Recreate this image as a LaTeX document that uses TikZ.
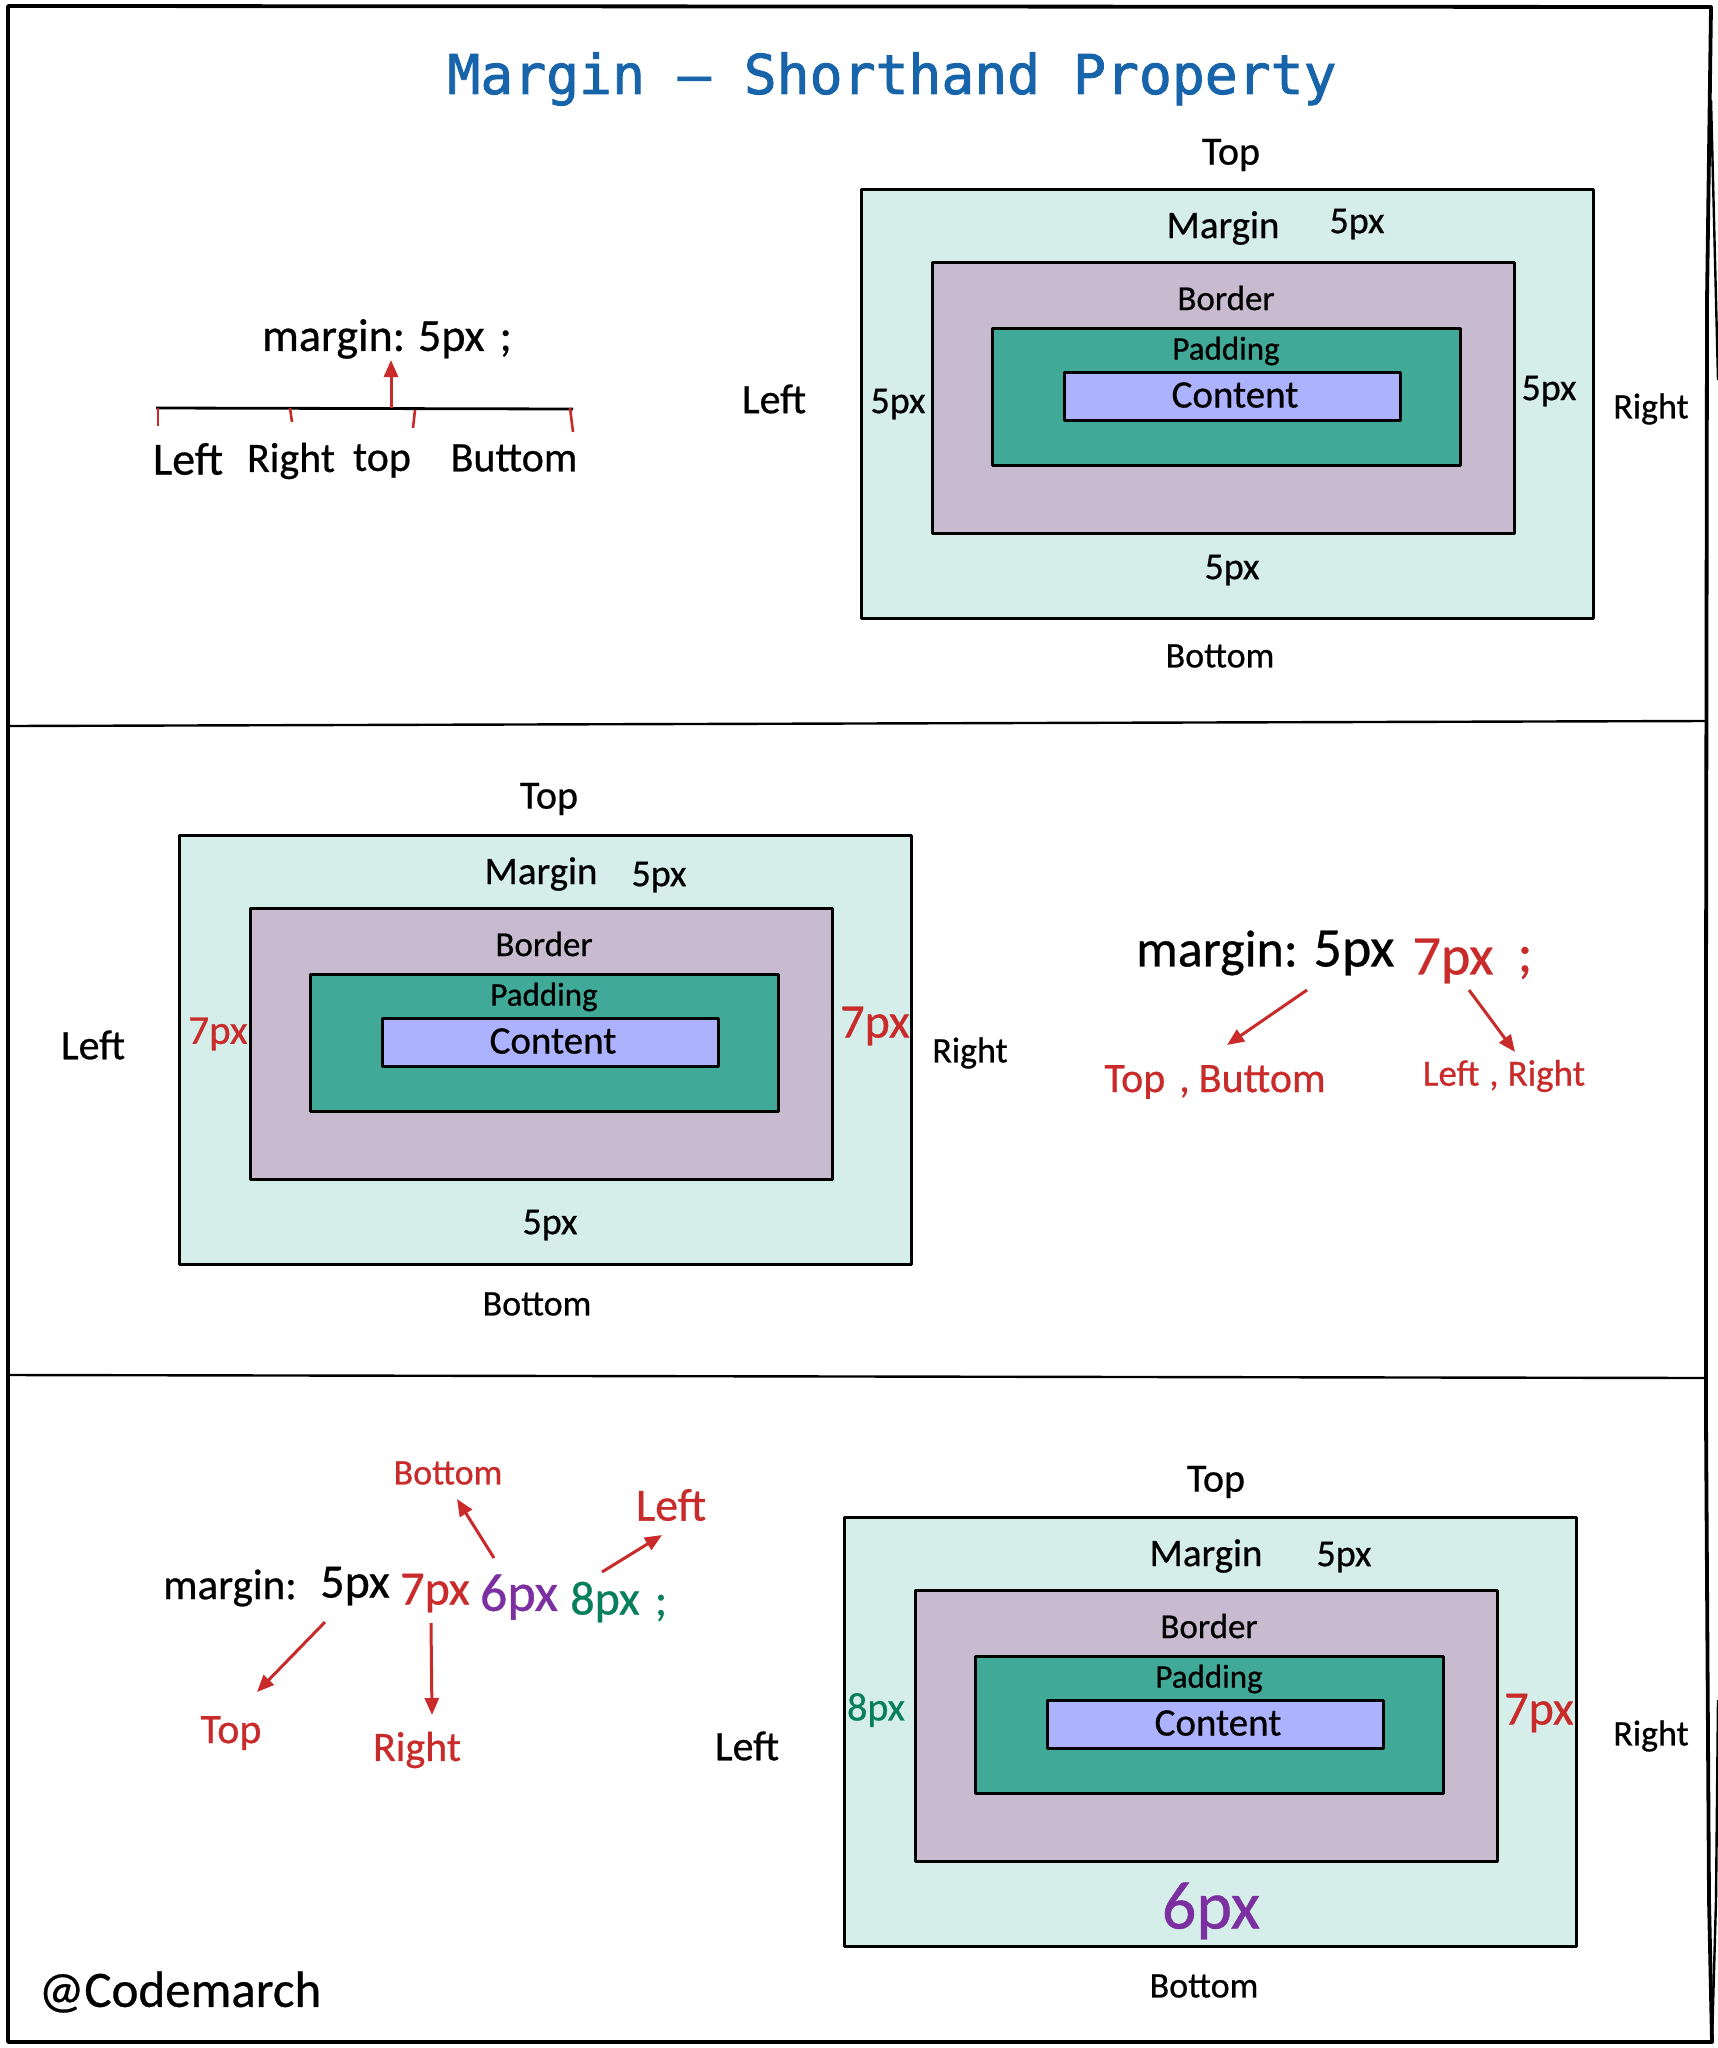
\documentclass[tikz,border=0pt]{standalone}
\usepackage{fontspec}
\setmainfont[FakeBold=0.6]{Carlito}
\newfontfamily\titlefont[FakeBold=1.6]{DejaVu Sans Mono}
\usetikzlibrary{arrows.meta}
\definecolor{marginc}{HTML}{D5EEEA}
\definecolor{borderc}{HTML}{C8BACF}
\definecolor{paddingc}{HTML}{40A997}
\definecolor{contentc}{HTML}{ADB2FE}
\definecolor{redc}{HTML}{C92A2A}
\definecolor{bluec}{HTML}{1864AB}
\definecolor{purplec}{HTML}{7B2FA0}
\definecolor{greenc}{HTML}{087F5B}
\tikzset{
  hand/.style={inner sep=0pt,font=\fontsize{#1}{#1}\selectfont},
  hand/.default=36,
  layer/.style={draw=black,line width=2.8pt,anchor=north west,inner sep=0pt,line join=round},
  framing/.style={line width=3.8pt,line cap=round,line join=round},
  divider/.style={line width=2.4pt},
  redarrow/.style={draw=redc,line width=3pt,-{Triangle[length=17pt,width=14pt]}},
  tick/.style={draw=redc,line width=2.6pt},
}
% #1 name prefix, #2 x, #3 y
\newcommand{\boxmodel}[3]{%
  \begin{scope}[shift={(#2,#3)}]
    \node[layer,fill=marginc,minimum width=732pt,minimum height=429pt] (#1outer) at (0,0) {};
    \node[layer,fill=borderc,minimum width=582pt,minimum height=271pt] (#1border) at (71,73) {};
    \node[layer,fill=paddingc,minimum width=468pt,minimum height=137pt] (#1padding) at (131,139) {};
    \node[layer,fill=contentc,minimum width=336pt,minimum height=48pt] (#1content) at (203,183) {};
    \node[hand=39] (#1tm) at (363,40) {Margin};
    \node[hand=35] (#1tb) at (366,110) {Border};
    \node[hand=33] (#1tp) at (366,163) {Padding};
    \node[hand=39] (#1tc) at (375,207) {Content};
  \end{scope}}
\begin{document}
\begin{tikzpicture}[x=1pt,y=-1pt]
\useasboundingbox (0,0) rectangle (1718,2048);
\fill[white] (0,0) rectangle (1718,2048);

% frame
\draw[framing] (8,2042) -- (8,6) -- (1711,7) -- (1707,300) -- (1706,1000) -- (1706,1420) -- (1709,1900) -- (1712,2042) -- cycle;
\draw[line width=2.4pt] (1711,100) -- (1718,380);
\draw[line width=2.4pt] (1718,1700) -- (1716,1900) -- (1712,2042);
\draw[divider] (8,726) -- (1706,721);
\draw[divider] (8,1375) -- (1706,1378);

% title
\node[inner sep=0pt,text=bluec,font=\titlefont\fontsize{54.7}{60}\selectfont] (title) at (892,79) {Margin – Shorthand Property};

% panel 1, left
\node[hand=46] (atext) at (387,339) {margin:\hspace{13pt}5px\hspace{15pt};};
\coordinate (lineL) at (156,408);
\coordinate (lineR) at (573,409);
\node[hand=46] (aleft) at (188,459) {Left};
\node[hand=42] (aright) at (291,461) {Right};
\node[hand=42] (atop) at (382,461) {top};
\node[hand=42] (abuttom) at (514,458) {Buttom};
\draw[line width=2.8pt] (lineL) -- (lineR);
\draw[tick] ([shift={(2,0)}]lineL) -- ([shift={(2,18)}]lineL);
\draw[tick] ([shift={(134,0)}]lineL) -- ([shift={(136,14)}]lineL);
\draw[tick] ([shift={(259,2)}]lineL) -- ([shift={(257,20)}]lineL);
\draw[tick] ([shift={(-3,-1)}]lineR) -- ([shift={(0,23)}]lineR);
\draw[redarrow] ([shift={(235,0)}]lineL) -- ([shift={(4,21)}]atext.center);

% panel 1, box
\boxmodel{p}{860}{188}
\node[hand=40] (ptop) at (1231,155) {Top};
\node[hand=38] (pmv) at (1357,224) {5px};
\node[hand=42] (pleft) at (774,399) {Left};
\node[hand=38] (plv) at (898,404) {5px};
\node[hand=38] (prv) at (1549,391) {5px};
\node[hand] (pright) at (1651,409) {Right};
\node[hand=38] (pbv) at (1232,570) {5px};
\node[hand] (pbottom) at (1220,656) {Bottom};

% panel 2, box
\boxmodel{q}{178}{834}
\node[hand=40] (qtop) at (549,799) {Top};
\node[hand=38] (qmv) at (659,877) {5px};
\node[hand=42] (qleft) at (93,1045) {Left};
\node[hand=41,text=redc] (qlv) at (218,1034) {7px};
\node[hand=48,text=redc] (qrv) at (875,1026) {7px};
\node[hand] (qright) at (970,1053) {Right};
\node[hand=38] (qbv) at (550,1225) {5px};
\node[hand] (qbottom) at (537,1304) {Bottom};

% panel 2, right
\node[hand=52] (bm) at (1217,953) {margin:};
\node[hand=56] (b5) at (1354,953) {5px};
\node[hand=56,text=redc] (b7) at (1453,961) {7px};
\node[hand=56,text=redc] (bs) at (1525,963) {;};
\node[hand=42,text=redc] (btb) at (1215,1082) {Top\hspace{14pt},\hspace{9pt}Buttom};
\node[hand=37,text=redc] (blr) at (1504,1076) {Left\hspace{10pt},\hspace{9pt}Right};
\draw[redarrow] ([shift={(-47,37)}]b5.center) -- ([shift={(12,-37)}]btb.center);
\draw[redarrow] ([shift={(16,29)}]b7.center) -- ([shift={(11,-24)}]blr.center);

% panel 3, left
\node[hand=43] (cm) at (230,1588) {margin:};
\node[hand=48] (c5) at (355,1586) {5px};
\node[hand=48,text=redc] (c7) at (435,1593) {7px};
\node[hand=54,text=purplec] (c6) at (519,1597) {6px};
\node[hand=48,text=greenc] (c8) at (605,1602) {8px};
\node[hand=46,text=greenc] (cs) at (661,1608) {;};
\node[hand=36,text=redc] (cbottom) at (448,1473) {Bottom};
\node[hand=46,text=redc] (cleft) at (671,1505) {Left};
\node[hand=42,text=redc] (ctop) at (231,1733) {Top};
\node[hand=42,text=redc] (cright) at (417,1750) {Right};
\draw[redarrow] ([shift={(-30,36)}]c5.center) -- ([shift={(26,-41)}]ctop.center);
\draw[redarrow] ([shift={(-4,30)}]c7.center) -- ([shift={(15,-35)}]cright.center);
\draw[redarrow] ([shift={(-25,-39)}]c6.center) -- ([shift={(9,26)}]cbottom.center);
\draw[redarrow] ([shift={(-3,-30)}]c8.center) -- ([shift={(-9,30)}]cleft.center);

% panel 3, box
\boxmodel{r}{843}{1516}
\node[hand=40] (rtop) at (1216,1482) {Top};
\node[hand=38] (rmv) at (1344,1557) {5px};
\node[hand=42] (rleft) at (747,1746) {Left};
\node[hand=40,text=greenc] (rlv) at (876,1710) {8px};
\node[hand=48,text=redc] (rrv) at (1539,1713) {7px};
\node[hand] (rright) at (1651,1736) {Right};
\node[hand=68,text=purplec] (rbv) at (1211,1911) {6px};
\node[hand] (rbottom) at (1204,1986) {Bottom};

% signature
\node[hand=51] (sign) at (180,1992) {@Codemarch};
\end{tikzpicture}
\end{document}
